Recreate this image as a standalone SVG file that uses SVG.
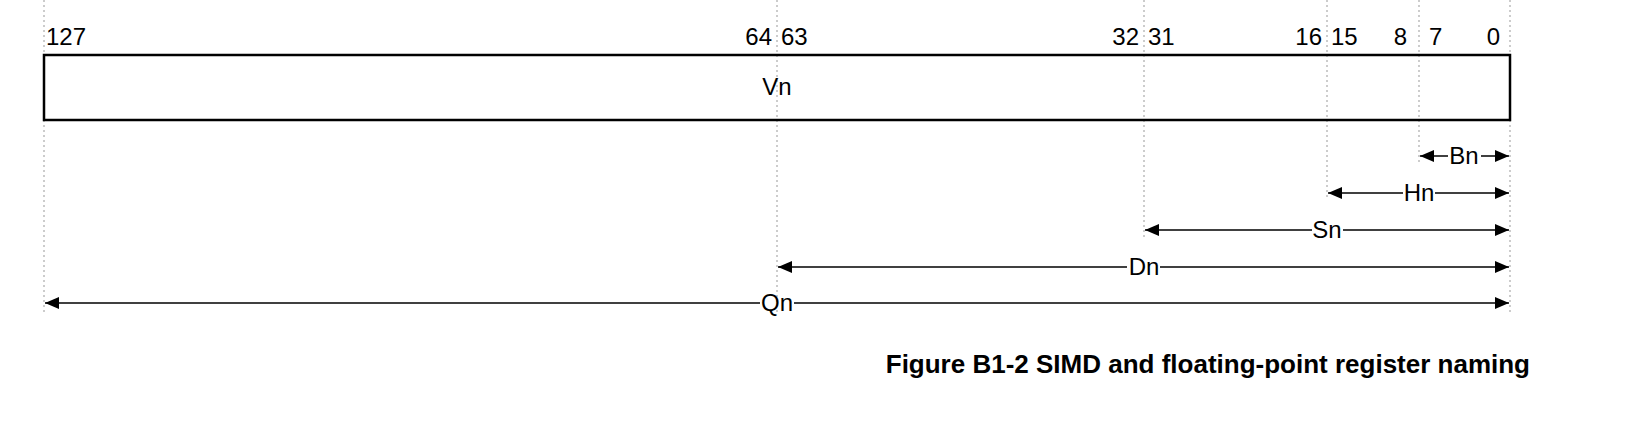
<svg xmlns="http://www.w3.org/2000/svg" width="1638" height="432" viewBox="0 0 1638 432">
<style>
text{font-family:"Liberation Sans",Arial,sans-serif;fill:#000}
.n{font-size:24px}
.g{stroke:#999;stroke-width:1;stroke-dasharray:2,3}
.l{stroke:#000;stroke-width:1.5;fill:none;marker-start:url(#h)}
.r{stroke:#000;stroke-width:1.5;fill:none;marker-end:url(#h)}
.lb{font-size:24px;text-anchor:middle}
</style>
<defs>
<marker id="h" viewBox="0 0 14 12" refX="14" refY="6" markerWidth="14" markerHeight="12" markerUnits="userSpaceOnUse" orient="auto-start-reverse"><path d="M0,0L14,6L0,12z" fill="#000"/></marker>
</defs>
<rect width="1638" height="432" fill="#fff"/>
<g id="guides">
<line class="g" x1="44" y1="0" x2="44" y2="312"/>
<line class="g" x1="777" y1="0" x2="777" y2="312"/>
<line class="g" x1="1144" y1="0" x2="1144" y2="238"/>
<line class="g" x1="1327" y1="0" x2="1327" y2="200"/>
<line class="g" x1="1419" y1="0" x2="1419" y2="164"/>
<line class="g" x1="1510" y1="0" x2="1510" y2="312"/>
</g>
<g id="bits">
<text class="n" x="46" y="45">127</text>
<text class="n" x="772" y="45" text-anchor="end">64</text>
<text class="n" x="781" y="45">63</text>
<text class="n" x="1139" y="45" text-anchor="end">32</text>
<text class="n" x="1148" y="45">31</text>
<text class="n" x="1322" y="45" text-anchor="end">16</text>
<text class="n" x="1331" y="45">15</text>
<text class="n" x="1407" y="45" text-anchor="end">8</text>
<text class="n" x="1429" y="45">7</text>
<text class="n" x="1500" y="45" text-anchor="end">0</text>
</g>
<g id="Vn">
<rect x="44" y="55" width="1466" height="65" fill="none" stroke="#000" stroke-width="2.5"/>
<text class="lb" x="777" y="95">Vn</text>
</g>
<g id="connectors">
<line class="l" x1="1420" y1="156" x2="1448" y2="156"/><line class="r" x1="1481" y1="156" x2="1509" y2="156"/>
<line class="l" x1="1328" y1="193" x2="1403" y2="193"/><line class="r" x1="1435" y1="193" x2="1509" y2="193"/>
<line class="l" x1="1145" y1="230" x2="1312" y2="230"/><line class="r" x1="1343" y1="230" x2="1509" y2="230"/>
<line class="l" x1="778" y1="267" x2="1127" y2="267"/><line class="r" x1="1160" y1="267" x2="1509" y2="267"/>
<line class="l" x1="45" y1="303" x2="760" y2="303"/><line class="r" x1="794" y1="303" x2="1509" y2="303"/>
</g>
<g id="labels">
<text class="lb" x="1464" y="164">Bn</text>
<text class="lb" x="1419" y="201">Hn</text>
<text class="lb" x="1327" y="238">Sn</text>
<text class="lb" x="1144" y="275">Dn</text>
<text class="lb" x="777" y="311">Qn</text>
</g>
<text x="1530" y="373" text-anchor="end" font-size="26" font-weight="bold">Figure B1-2 SIMD and floating-point register naming</text>
</svg>
